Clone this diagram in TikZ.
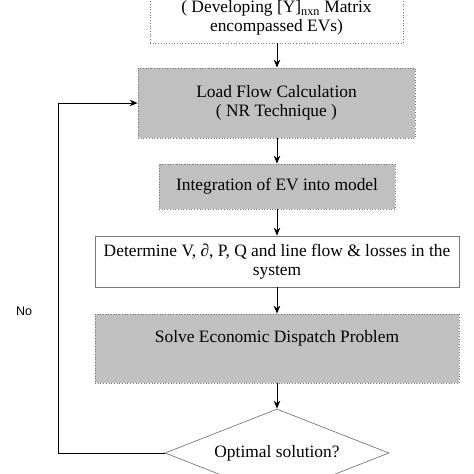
\documentclass[tikz,border=0pt]{standalone}
\usepackage{fontspec}
\setmainfont{Liberation Serif}
\newfontfamily\nofont{Liberation Sans}
\usetikzlibrary{shapes.geometric,arrows.meta}
\definecolor{boxgray}{RGB}{192,192,192}
\definecolor{edgegray}{RGB}{120,120,120}
\tikzset{
  base/.style={rectangle, draw=edgegray, line width=0.7pt, align=center, inner sep=0pt,
    font=\fontsize{17.4}{19}\selectfont},
  dotbox/.style={base, dotted},
  graybox/.style={dotbox, fill=boxgray},
  plainbox/.style={base},
  decision/.style={diamond, aspect=2.545, draw=edgegray, line width=0.7pt, inner sep=0pt, align=center,
    font=\fontsize{17.4}{19}\selectfont},
  flow/.style={draw=black, line width=1pt, -{Stealth[length=8pt,width=6.5pt]}},
}
\begin{document}
\begin{tikzpicture}[x=1pt,y=-1pt]
\useasboundingbox (0,0) rectangle (474,474);
\node[dotbox, minimum width=253pt, minimum height=50pt] (dev) at (276.5,18)
  {( Developing [Y]\textsubscript{nxn} Matrix\\encompassed EVs)};
\node[graybox, minimum width=277pt, minimum height=70pt] (lf) at (276.5,103)
  {Load Flow Calculation\\( NR Technique )};
\node[graybox, minimum width=236pt, minimum height=45pt] (int) at (277,186.5)
  {Integration of EV into model};
\node[plainbox, minimum width=364pt, minimum height=51pt] (det) at (277,261.5)
  {Determine V, \textit{∂}, P, Q and line flow \& losses in the\\system};
\node[graybox, minimum width=364pt, minimum height=69pt] (ed) at (277,348.5)
  {Solve Economic Dispatch Problem\\\strut};
\node[decision, minimum width=224pt, minimum height=88pt] (opt) at (277,453)
  {Optimal solution?};
\node[font=\nofont\fontsize{12.5}{14}\selectfont] (no) at (24,311) {No};
\coordinate (cb) at (58,453);
\coordinate (ct) at (58,103);
\draw[flow] (dev.south -| 277,0) -- (lf.north -| 277,0);
\draw[flow] (lf.south -| 277,0) -- (int.north);
\draw[flow] (int.south) -- (det.north);
\draw[flow] (det.south) -- (ed.north);
\draw[flow] (ed.south) -- (opt.north);
\draw[flow] (opt.west) -- (cb) -- (ct) -- (lf.west);
\end{tikzpicture}
\end{document}
